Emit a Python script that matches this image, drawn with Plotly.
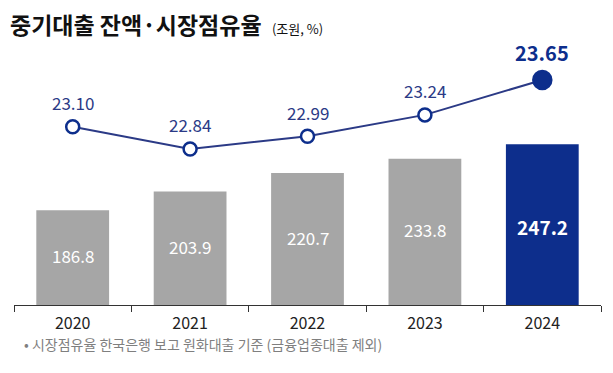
import plotly.graph_objects as go

years = ["2020", "2021", "2022", "2023", "2024"]
balance = [186.8, 203.9, 220.7, 233.8, 247.2]
share = [23.10, 22.84, 22.99, 23.24, 23.65]
balance_labels = ["186.8", "203.9", "220.7", "233.8", "<b>247.2</b>"]
share_labels = ["23.10", "22.84", "22.99", "23.24", "<b>23.65</b>"]

GRAY = "#a6a6a6"
NAVY = "#0d2e8c"
LINE = "#2b3a86"
FONT = "Noto Sans CJK KR"
Y_MIN, Y_MAX = 100, 342.5
Y2_MIN, Y2_MAX = 21.009, 24.119

fig = go.Figure()
fig.add_trace(go.Bar(
    x=years, y=balance,
    marker=dict(color=[GRAY, GRAY, GRAY, GRAY, NAVY], line=dict(width=0)),
    width=0.62,
    hoverinfo="skip",
))
fig.add_trace(go.Scatter(
    x=years, y=share, yaxis="y2", mode="lines+markers",
    line=dict(color=LINE, width=2),
    marker=dict(size=[13, 13, 13, 13, 18], color=["white"] * 4 + [NAVY],
                opacity=1, line=dict(color=NAVY, width=2.5)),
    hoverinfo="skip",
))

annotations = []
for i, (v, lab) in enumerate(zip(balance, balance_labels)):
    annotations.append(dict(
        x=i, y=(v + Y_MIN) / 2, xref="x", yref="y", yshift=-2 if i == 4 else 2,
        text=lab, showarrow=False,
        font=dict(color="white", size=19 if i == 4 else 17, family=FONT),
    ))
for i, (v, lab) in enumerate(zip(share, share_labels)):
    annotations.append(dict(
        x=i, y=v, xref="x", yref="y2", yshift=27 if i == 4 else 24,
        text=lab, showarrow=False,
        font=dict(color=NAVY if i == 4 else LINE, size=20 if i == 4 else 17, family=FONT),
    ))
annotations.append(dict(
    x=0, y=1, xref="paper", yref="paper", xanchor="left", yanchor="middle",
    xshift=-6, yshift=16,
    text="<b>중기대출 잔액·시장점유율</b>  <span style='font-size:13px'>(조원, %)</span>",
    showarrow=False, font=dict(size=23, color="#111111", family=FONT),
))
annotations.append(dict(
    x=0, y=0, xref="paper", yref="paper", xanchor="left", yanchor="middle",
    xshift=8, yshift=-39,
    text="• 시장점유율 한국은행 보고 원화대출 기준 (금융업종대출 제외)",
    showarrow=False, font=dict(size=14, color="#7f7f7f", family=FONT),
))

fig.update_layout(
    width=605, height=365,
    margin=dict(l=6, r=12, t=32, b=68),
    paper_bgcolor="white", plot_bgcolor="white",
    showlegend=False,
    font=dict(family=FONT),
    xaxis=dict(
        type="category", range=[-0.5, 4.5],
        showline=True, linecolor="#333333", linewidth=1.2,
        ticks="outside", tickson="boundaries", ticklen=6, tickcolor="#333333",
        tickfont=dict(size=16, color="#222222", family=FONT),
        ticklabelstandoff=4,
        showgrid=False, zeroline=False,
    ),
    yaxis=dict(range=[Y_MIN, Y_MAX], visible=False, showgrid=False, zeroline=False),
    yaxis2=dict(range=[Y2_MIN, Y2_MAX], overlaying="y", side="right",
                visible=False, showgrid=False, zeroline=False),
    annotations=annotations,
)

fig.write_html("out.html")
